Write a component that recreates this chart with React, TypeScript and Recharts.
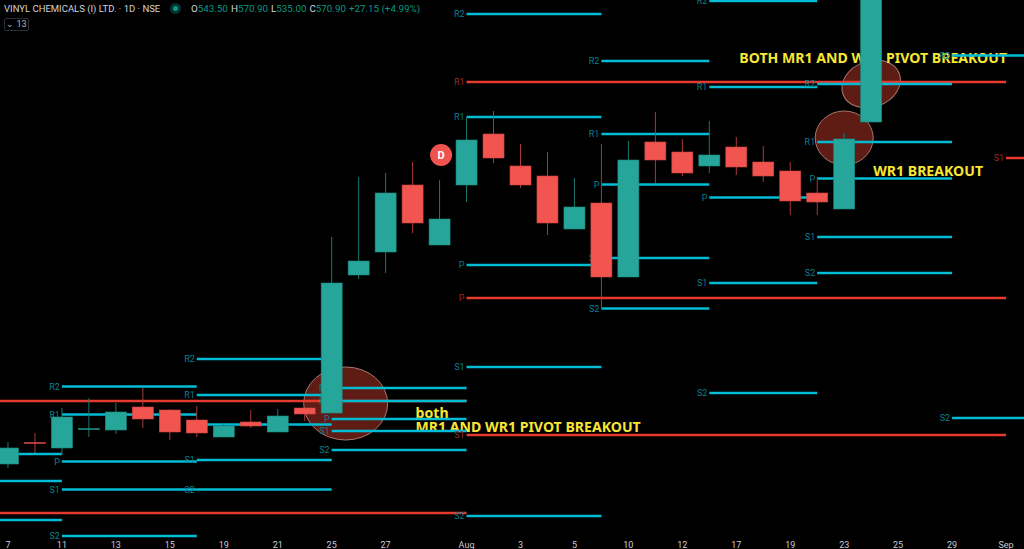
import { Bar, ComposedChart, ReferenceDot, ReferenceLine, XAxis, YAxis } from 'recharts';

// no price scale is visible in the picture, so levels are in chart units (height above the bottom edge)
const sessions = [-1, 0, 1, 2, 3, 4, 5, 6, 7, 8, 9, 10, 11, 12, 13, 14, 15, 16, 17, 18, 19, 20, 21, 22, 23, 24, 25, 26, 27, 28, 29, 30, 31, 32, 33, 34, 35, 36, 37, 38];
const dayLabels = ['', '7', '', '11', '', '13', '', '15', '', '19', '', '21', '', '25', '', '27', '', '', 'Aug', '', '3', '', '5', '', '10', '', '12', '', '17', '', '19', '', '23', '', '25', '', '29', '', 'Sep', ''];

const opens = [85, 106.5, 101, 119.5, 119, 142, 139, 129, 112, 127, 117, 141, 136, 274, 297, 364, 304, 364, 415, 383, 373, 320, 346, 272, 407, 397, 383, 402, 387, 378, 356, 340, 427];
const highs = [107, 116, 141, 151, 146, 161, 140, 143, 126, 139, 140, 141, 312, 372, 376, 387, 369, 431, 438, 405, 397, 371, 405, 408, 437, 410, 428, 412, 403, 387, 372, 416, 610];
const lows = [81, 96, 94, 112, 115, 121, 109, 112, 112, 121, 117, 128, 136, 270, 276, 316, 304, 347, 386, 361, 314, 320, 241, 272, 366, 373, 376, 374, 367, 334, 334, 340, 427];
const closes = [101, 105.5, 132, 120.5, 137, 130, 117, 116, 123, 123, 133, 135, 266, 288, 356, 326, 330, 409, 391, 364, 326, 342, 272, 389, 389, 376, 394, 382, 373, 348, 347, 410, 600];

// [from session, to session, label, level]
const weeklyPivots: [number, number, string, number][] = [
  [-1, 2, '', 95], [-1, 2, '', 68], [-1, 2, '', 29],
  [2, 7, 'R2', 162.5], [2, 7, 'R1', 134.5], [2, 7, 'P', 87.5], [2, 7, 'S1', 59.5], [2, 7, 'S2', 13],
  [7, 12, 'R2', 190], [7, 12, 'R1', 154], [7, 12, 'P', 124.5], [7, 12, 'S1', 89], [7, 12, 'S2', 59.5],
  [12, 17, 'R2', 161], [12, 17, 'R1', 148], [12, 17, 'P', 130], [12, 17, 'S1', 118], [12, 17, 'S2', 99],
  [17, 22, 'R2', 535], [17, 22, 'R1', 432], [17, 22, 'P', 284], [17, 22, 'S1', 182], [17, 22, 'S2', 33],
  [22, 26, 'R2', 488], [22, 26, 'R1', 415], [22, 26, 'P', 364.5], [22, 26, 'S1', 291], [22, 26, 'S2', 240.5],
  [26, 30, 'R2', 548], [26, 30, 'R1', 462], [26, 30, 'P', 351.5], [26, 30, 'S1', 266], [26, 30, 'S2', 156],
  [30, 35, 'R2', 465], [30, 35, 'R1', 407], [30, 35, 'P', 370.5], [30, 35, 'S1', 312], [30, 35, 'S2', 276],
  [35, 38, 'R2', 493.5], [35, 38, 'S2', 131],
];
const monthlyPivots: [number, number, string, number][] = [
  [-1, 17, '', 148], [-1, 17, '', 36],
  [17, 37, 'R1', 467], [17, 37, 'P', 251], [17, 37, 'S1', 114],
  [37, 38, 'S1', 391],
];

const headerValues = ['543.50', '570.90', '535.00', '570.90'];
const headerLetters = ['O', 'H', 'L', 'C'];

const rows = sessions.map((idx) => {
  const has = idx >= 0 && idx < opens.length;
  return {
    idx,
    range: has ? [lows[idx], highs[idx]] : null,
    open: has ? opens[idx] : null,
    high: has ? highs[idx] : null,
    low: has ? lows[idx] : null,
    close: has ? closes[idx] : null,
  };
});

const UP = '#26a69a';
const DOWN = '#f25450';
const CYAN = '#00bcd4';
const RED = '#e53a2f';

const chartProps = {
  width: 1024,
  height: 549,
  data: rows,
  margin: { top: 0, right: -22.5, bottom: 0, left: -32.5 },
  barSize: 21,
};

const layer: React.CSSProperties = { position: 'absolute', left: 0, top: 0 };

const Candle = (props: any) => {
  const { x, y, width, height, payload } = props;
  if (!payload || payload.open == null) return null;
  const up = payload.close >= payload.open;
  const top = Math.min(y, y + height);
  const unit = Math.abs(height) / (payload.high - payload.low);
  const bodyTop = top + (payload.high - Math.max(payload.open, payload.close)) * unit;
  const bodyH = Math.max(Math.abs(payload.close - payload.open) * unit, 1);
  const mid = x + width / 2;
  return (
    <g>
      <line x1={mid} x2={mid} y1={top} y2={top + Math.abs(height)} stroke={up ? '#17796f' : '#a83a38'} strokeWidth={1} />
      <rect x={x} y={bodyTop} width={width} height={bodyH} fill={up ? UP : DOWN} stroke={up ? '#1f8a80' : '#cc4442'} strokeWidth={0.6} />
    </g>
  );
};

const Blob = ({ cx, cy, dx = 0, rx, ry, tilt = 0 }: any) => (
  <ellipse cx={cx + dx} cy={cy} rx={rx} ry={ry} transform={`rotate(${tilt} ${cx + dx} ${cy})`} fill="#5f1c15" stroke="#a8786f" strokeWidth={1} />
);

const Note = ({ cx, cy, dx = 0, children }: any) => (
  <text x={cx + dx} y={cy} dy="0.36em" fill="#f7e733" fontSize={14.1} fontWeight={700} fontFamily="'Noto Sans', sans-serif">
    {children}
  </text>
);

const Badge = ({ cx, cy }: any) => (
  <g>
    <circle cx={cx + 1.5} cy={cy} r={11} fill="#ef5350" />
    <text x={cx + 1.5} y={cy} dy="0.36em" textAnchor="middle" fill="#fff" fontSize={11} fontWeight={700} fontFamily="Roboto, sans-serif">D</text>
  </g>
);

const pivotLine = (p: [number, number, string, number], color: string, labelColor: string, key: string) => (
  <ReferenceLine
    key={key}
    segment={[{ x: p[0], y: p[3] }, { x: p[1], y: p[3] }]}
    stroke={color}
    strokeWidth={2.5}
    label={p[2] ? { value: p[2], position: 'left', offset: 2, fill: labelColor, fontSize: 9, fontFamily: 'Roboto, sans-serif' } : undefined}
  />
);

export default function App() {
  return (
    <div style={{ position: 'relative', width: 1024, height: 549, background: '#000', overflow: 'hidden' }}>
      <style>{'html,body{margin:0;padding:0;background:#000;overflow:hidden}'}</style>
      {/* stacking in the picture: highlights and notes, then pivots, then candles; one chart per layer */}
      <div style={layer}>
        <ComposedChart {...chartProps}>
          <XAxis dataKey="idx" hide />
          <YAxis hide domain={[0, 549]} allowDataOverflow />
          <ReferenceDot x={12} y={145.5} shape={(p: any) => <Blob {...p} dx={14} rx={42} ry={36.5} />} />
          <ReferenceDot x={31} y={411} shape={(p: any) => <Blob {...p} rx={29} ry={27} />} />
          <ReferenceDot x={32} y={465} shape={(p: any) => <Blob {...p} rx={30} ry={23} tilt={-20} />} />
          <ReferenceDot x={15} y={136} shape={(p: any) => <Note {...p} dx={3}>both</Note>} />
          <ReferenceDot x={15} y={122} shape={(p: any) => <Note {...p} dx={3}>MR1 AND WR1 PIVOT BREAKOUT</Note>} />
          <ReferenceDot x={27} y={491} shape={(p: any) => <Note {...p} dx={3}>BOTH MR1 AND WR1 PIVOT BREAKOUT</Note>} />
          <ReferenceDot x={32} y={378} shape={(p: any) => <Note {...p} dx={2}>WR1 BREAKOUT</Note>} />
          <Bar dataKey="range" hide isAnimationActive={false} />
        </ComposedChart>
      </div>
      <div style={layer}>
        <ComposedChart {...chartProps}>
          <XAxis dataKey="idx" hide />
          <YAxis hide domain={[0, 549]} allowDataOverflow />
          {monthlyPivots.map((p, i) => pivotLine(p, RED, '#9c2a25', `m${i}`))}
          {weeklyPivots.map((p, i) => pivotLine(p, CYAN, '#0b7f8f', `w${i}`))}
          <Bar dataKey="range" hide isAnimationActive={false} />
        </ComposedChart>
      </div>
      <div style={layer}>
        <ComposedChart {...chartProps}>
          <XAxis
            dataKey="idx"
            mirror
            interval={0}
            axisLine={false}
            tickLine={false}
            tick={{ fill: '#c9ccd3', fontSize: 9, fontFamily: 'Roboto, sans-serif', dy: 7 }}
            tickFormatter={(_v: any, i: number) => dayLabels[i]}
          />
          <YAxis hide domain={[0, 549]} allowDataOverflow />
          <ReferenceDot x={16} y={394} shape={(p: any) => <Badge {...p} />} />
          <Bar dataKey="range" shape={<Candle />} isAnimationActive={false} />
        </ComposedChart>
      </div>
      <div style={{ position: 'absolute', left: 4, top: 2, height: 13, lineHeight: '13px', fontFamily: 'Roboto, sans-serif', color: '#d1d4dc', whiteSpace: 'nowrap', display: 'flex', alignItems: 'center', fontSize: 9.8 }}>
        <span style={{ display: 'inline-block', width: 156, fontSize: 9.5 }}>VINYL CHEMICALS (I) LTD. · 1D · NSE</span>
        <span style={{ display: 'inline-block', width: 5, height: 5, borderRadius: 3, background: '#089981', boxShadow: '0 0 0 3px #06332d', margin: '0 13.5px 0 12.5px' }} />
        {headerLetters.map((l, i) => (
          <span key={l} style={{ marginRight: 3 }}>{l}<span style={{ color: '#089981' }}>{headerValues[i]}</span></span>
        ))}
        <span style={{ color: '#089981' }}>+27.15 (+4.99%)</span>
      </div>
      <div style={{ position: 'absolute', left: 4, top: 18, width: 23, height: 11, border: '1px solid #2a2e39', borderRadius: 2, color: '#b2b5be', fontFamily: 'Roboto, sans-serif', fontSize: 9, lineHeight: '11px', textAlign: 'center' }}>
        ⌄ 13
      </div>
    </div>
  );
}
